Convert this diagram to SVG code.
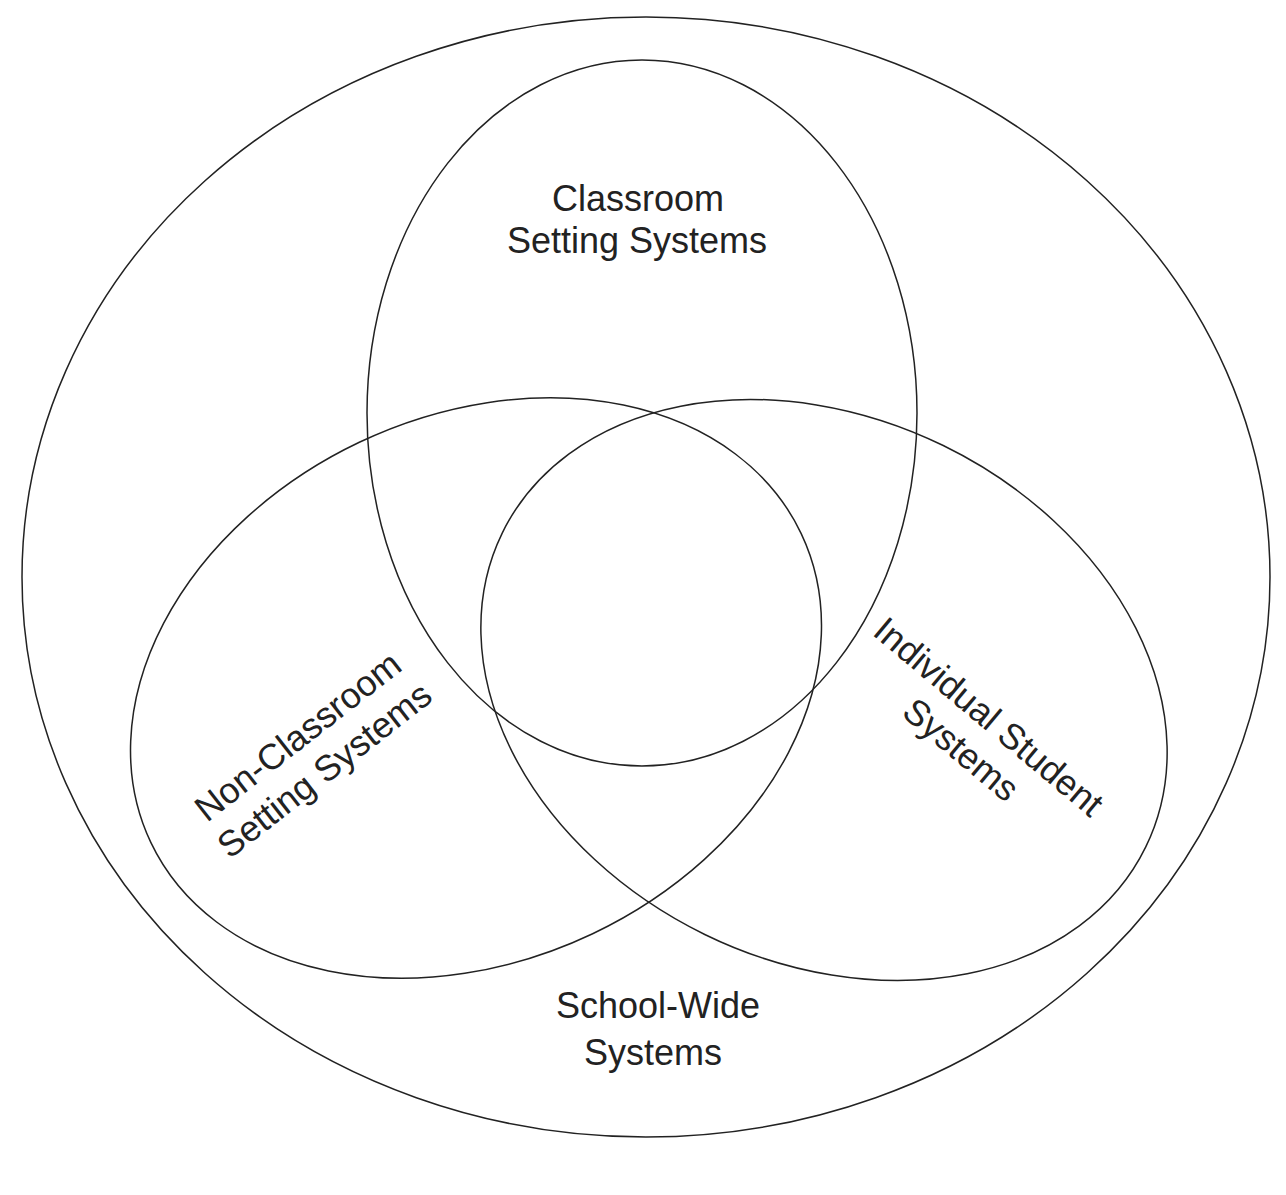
<svg xmlns="http://www.w3.org/2000/svg" width="1286" height="1195" viewBox="0 0 1286 1195">
<style>
.e{fill:none;stroke:#222;stroke-width:1.5}
text{font-family:"Liberation Sans",Arial,sans-serif;font-size:36px;fill:#222;text-anchor:middle}
</style>
<rect width="1286" height="1195" fill="#fff"/>
<g id="connectors"/>
<g id="school-wide">
<ellipse class="e" cx="646" cy="577" rx="624" ry="560"/>
<text x="658" y="1018">School-Wide</text>
<text x="653" y="1065">Systems</text>
</g>
<g id="classroom">
<ellipse class="e" cx="642" cy="413" rx="275" ry="353"/>
<text x="638" y="211">Classroom</text>
<text x="637" y="253">Setting Systems</text>
</g>
<g id="non-classroom">
<ellipse class="e" cx="476" cy="688" rx="360" ry="272" transform="rotate(-25.4 476 688)"/>
<g transform="translate(311 753) rotate(-38)">
<text x="0" y="-9">Non-Classroom</text>
<text x="0" y="34">Setting Systems</text>
</g>
</g>
<g id="individual">
<ellipse class="e" cx="824" cy="690" rx="358" ry="272" transform="rotate(26 824 690)"/>
<g transform="translate(975 733) rotate(40)">
<text x="0" y="-9">Individual Student</text>
<text x="0" y="34">Systems</text>
</g>
</g>
</svg>
